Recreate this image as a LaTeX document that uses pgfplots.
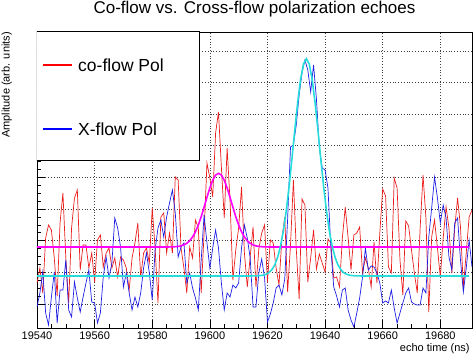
\documentclass[border=0pt]{standalone}
\usepackage{fontspec}
\setmainfont{Liberation Sans}
\usepackage{pgfplots}
\pgfplotsset{compat=1.18}
\definecolor{fitcyan}{RGB}{40,220,220}
\definecolor{fitmag}{RGB}{255,0,255}
\definecolor{datred}{RGB}{235,30,30}
\definecolor{datblue}{RGB}{30,30,230}
\begin{document}
\begin{tikzpicture}
\useasboundingbox (-37pt,-27pt) rectangle (437pt,328pt);
\begin{axis}[
 scale only axis, width=435pt, height=296pt,
 xmin=19540, xmax=19691, ymin=0, ymax=296,
 xtick={19540,19560,19580,19600,19620,19640,19660,19680},
 xticklabels={19540,19560,19580,19600,19620,19640,19660,19680},
 scaled x ticks=false,
 minor x tick num=3,
 ytick={24,55.65,87.3,118.95,150.6,182.25,213.9,245.55,277.2},
 yticklabels={},
 minor y tick num=3,
 xtick pos=left, ytick pos=left,
 tick align=inside,
 major tick length=8pt, minor tick length=4pt,
 tick style={black, line width=0.6pt},
 grid=major,
 major grid style={black!75, dash pattern=on 0.8pt off 2pt, line width=0.5pt},
 axis line style={line width=0.8pt},
 xticklabel style={font=\fontsize{11}{13}\selectfont},
 title={Co-flow vs. Cross-flow polarization echoes},
 title style={font=\fontsize{17}{20}\selectfont, at={(rel axis cs:0.5,1)}, anchor=base, yshift=12pt},
 xlabel={echo time (ns)},
 xlabel style={font=\fontsize{11}{13}\selectfont, at={(rel axis cs:0.995,-0.081)}, anchor=base east, inner sep=0pt},
 ylabel={Amplitude (arb. units)},
 ylabel style={font=\fontsize{11}{13}\selectfont, at={(rel axis cs:-0.0575,1)}, anchor=south east, inner sep=0pt},
]
\addplot[datred, line width=0.7pt] coordinates {
(19540,45) (19541,60) (19542,35) (19543,90) (19544,103) (19545,98) (19546,70) (19547,32) (19548,105) (19549,135)
(19550,70) (19551,25) (19552,100) (19553,130) (19554,138) (19555,58) (19556,83) (19557,83) (19558,60) (19559,75)
(19560,46) (19561,88) (19562,93) (19563,61) (19564,75) (19565,80) (19566,60) (19567,70) (19568,51) (19569,71)
(19570,68) (19571,60) (19572,38) (19573,70) (19574,85) (19575,105) (19576,51) (19577,75) (19578,80) (19579,65)
(19580,120) (19581,80) (19582,25) (19583,111) (19584,115) (19585,75) (19586,95) (19587,75) (19588,151) (19589,148)
(19590,80) (19591,60) (19592,35) (19593,81) (19594,70) (19595,108) (19596,100) (19597,35) (19598,95) (19599,165)
(19600,150) (19601,131) (19602,195) (19603,216) (19604,161) (19605,110) (19606,180) (19607,128) (19608,48) (19609,78)
(19610,100) (19611,141) (19612,75) (19613,41) (19614,71) (19615,101) (19616,41) (19617,79) (19618,95) (19619,103)
(19620,46) (19621,88) (19622,85) (19623,60) (19624,43) (19625,89) (19626,111) (19627,36) (19628,83) (19629,148)
(19630,79) (19631,29) (19632,129) (19633,123) (19634,46) (19635,70) (19636,98) (19637,59) (19638,74) (19639,65)
(19640,56) (19641,89) (19642,85) (19643,50) (19644,51) (19645,41) (19646,90) (19647,121) (19648,90) (19649,58)
(19650,93) (19651,95) (19652,101) (19653,55) (19654,70) (19655,60) (19656,41) (19657,86) (19658,45) (19659,95)
(19660,139) (19661,132) (19662,61) (19663,55) (19664,150) (19665,140) (19666,68) (19667,33) (19668,107) (19669,102)
(19670,78) (19671,55) (19672,35) (19673,100) (19674,153) (19675,110) (19676,16) (19677,91) (19678,108) (19679,80)
(19680,51) (19681,90) (19682,121) (19683,100) (19684,55) (19685,100) (19686,130) (19687,101) (19688,41) (19689,75)
(19690,111) (19691,118)
};
\addplot[datblue, line width=0.7pt] coordinates {
(19540,21) (19541,35) (19542,56) (19543,15) (19544,3) (19545,31) (19546,56) (19547,5) (19548,38) (19549,38)
(19550,68) (19551,18) (19552,11) (19553,46) (19554,30) (19555,16) (19556,31) (19557,45) (19558,58) (19559,26)
(19560,25) (19561,5) (19562,15) (19563,51) (19564,71) (19565,50) (19566,65) (19567,110) (19568,100) (19569,81)
(19570,41) (19571,55) (19572,35) (19573,18) (19574,31) (19575,21) (19576,35) (19577,60) (19578,75) (19579,55)
(19580,28) (19581,78) (19582,100) (19583,108) (19584,91) (19585,111) (19586,125) (19587,138) (19588,115) (19589,71)
(19590,81) (19591,85) (19592,45) (19593,55) (19594,40) (19595,30) (19596,18) (19597,68) (19598,113) (19599,85)
(19600,60) (19601,80) (19602,98) (19603,80) (19604,45) (19605,18) (19606,35) (19607,31) (19608,43) (19609,40)
(19610,45) (19611,80) (19612,103) (19613,90) (19614,70) (19615,21) (19616,21) (19617,55) (19618,69) (19619,50)
(19620,6) (19621,14) (19622,25) (19623,40) (19624,43) (19625,33) (19626,49) (19627,109) (19628,181) (19629,183)
(19630,203) (19631,233) (19632,255) (19633,268) (19634,258) (19635,236) (19636,263) (19637,229) (19638,180) (19639,160)
(19640,158) (19641,140) (19642,80) (19643,41) (19644,32) (19645,21) (19646,38) (19647,40) (19648,18) (19649,8)
(19650,1) (19651,15) (19652,30) (19653,51) (19654,80) (19655,58) (19656,62) (19657,61) (19658,55) (19659,45)
(19660,25) (19661,27) (19662,25) (19663,38) (19664,20) (19665,5) (19666,15) (19667,25) (19668,35) (19669,40)
(19670,26) (19671,24) (19672,23) (19673,23) (19674,40) (19675,35) (19676,91) (19677,120) (19678,151) (19679,130)
(19680,105) (19681,123) (19682,110) (19683,71) (19684,58) (19685,105) (19686,110) (19687,68) (19688,36) (19689,60)
(19690,88) (19691,61)
};
\addplot[fitmag, line width=1.6pt] coordinates {
(19540,81) (19585,81) (19587,81.1) (19588,81.3) (19589,81.6) (19590,82.1) (19591,83.1) (19592,84.7) (19593,87.2)
(19594,91.0) (19595,96.2) (19596,103.0) (19597,111.3) (19598,120.8) (19599,130.7) (19600,140.0) (19601,147.8)
(19602,152.9) (19603,154.7) (19604,152.9) (19605,147.8) (19606,140.0) (19607,130.7) (19608,120.8) (19609,111.3)
(19610,103.0) (19611,96.2) (19612,91.0) (19613,87.2) (19614,84.7) (19615,83.1) (19616,82.1) (19617,81.6)
(19618,81.3) (19619,81.1) (19621,81) (19690,81)
};
\addplot[fitcyan, line width=1.6pt] coordinates {
(19540,52) (19614,52) (19615.5,52.1) (19616.5,52.2) (19617.5,52.4) (19618.5,52.8) (19619.5,53.7) (19620.5,55.3)
(19621.5,58.2) (19622.5,62.9) (19623.5,70.4) (19624.5,81.4) (19625.5,96.7) (19626.5,116.8) (19627.5,141.3)
(19628.5,169.2) (19629.5,198.4) (19630.5,226.0) (19631.5,248.9) (19632.5,264.0) (19633.5,269.3) (19634.5,264.0)
(19635.5,248.9) (19636.5,226.0) (19637.5,198.4) (19638.5,169.2) (19639.5,141.3) (19640.5,116.8) (19641.5,96.7)
(19642.5,81.4) (19643.5,70.4) (19644.5,62.9) (19645.5,58.2) (19646.5,55.3) (19647.5,53.7) (19648.5,52.8)
(19649.5,52.4) (19650.5,52.2) (19651.5,52.1) (19653,52) (19690,52)
};
% legend box
\draw[black, line width=1pt, fill=white] (rel axis cs:0,1) rectangle (rel axis cs:0.3747,0.5642);
\draw[draw=red, line width=1.4pt] (rel axis cs:0.0138,0.8885) -- (rel axis cs:0.0805,0.8885);
\node[anchor=west, inner sep=0pt, text height=12.5pt, text depth=0pt, font=\fontsize{17.5}{20}\selectfont]
  at (rel axis cs:0.0943,0.8885) {co-flow Pol};
\draw[draw=blue, line width=1.4pt] (rel axis cs:0.0138,0.6723) -- (rel axis cs:0.0805,0.6723);
\node[anchor=west, inner sep=0pt, text height=12.5pt, text depth=0pt, font=\fontsize{17.5}{20}\selectfont]
  at (rel axis cs:0.0943,0.6723) {X-flow Pol};
\end{axis}
\end{tikzpicture}
\end{document}
